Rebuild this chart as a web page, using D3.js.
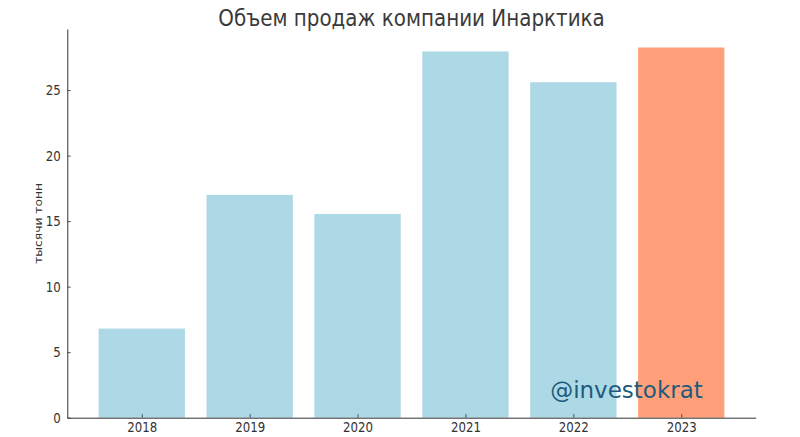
<!DOCTYPE html>
<html>
<head>
<meta charset="utf-8">
<script src="https://cdn.jsdelivr.net/npm/d3@7"></script>
<style>
  html, body { margin: 0; padding: 0; background: #fff; }
  svg { display: block; font-family: "DejaVu Sans", sans-serif; }
</style>
</head>
<body>
<svg id="chart" width="800" height="437"></svg>
<script>
const years = ["2018", "2019", "2020", "2021", "2022", "2023"];
const sales = [6.8, 17.0, 15.55, 27.95, 25.6, 28.25];
const barColors = ["#ADD8E6", "#ADD8E6", "#ADD8E6", "#ADD8E6", "#ADD8E6", "#FFA07A"];
const yTicks = [0, 5, 10, 15, 20, 25];
const titleText = "Объем продаж компании Инарктика";
const yLabelText = "тысячи тонн";
const watermarkText = "@investokrat";

const svg = d3.select("#chart");
const mLeft = 67.3, mRight = 755.7, mTop = 29, mBottom = 417.7;
const sy = 1.12; // vertical stretch of the reference's text

const n = years.length;
const xmin = -0.4 - 0.05 * (n - 1 + 0.8), xmax = n - 1 + 0.4 + 0.05 * (n - 1 + 0.8);
const x = d3.scaleLinear().domain([xmin, xmax]).range([mLeft, mRight]);
const ymax = d3.max(sales) * 1.05;
const y = d3.scaleLinear().domain([0, ymax]).range([mBottom, mTop]);

svg.append("g").selectAll("rect").data(sales).join("rect")
  .attr("x", (d, i) => x(i - 0.4))
  .attr("width", (d, i) => x(i + 0.4) - x(i - 0.4))
  .attr("y", d => y(d))
  .attr("height", d => y(0) - y(d))
  .attr("fill", (d, i) => barColors[i]);

const axisColor = "#333";
const textColor = "#333";
const gx = svg.append("g").attr("transform", `translate(0,${mBottom})`)
  .call(d3.axisBottom(x).tickValues(d3.range(n)).tickFormat(i => years[i]).tickSizeInner(-3.5).tickSizeOuter(0));
gx.select(".domain").attr("stroke", axisColor).attr("stroke-width", 1);
gx.selectAll(".tick line").attr("stroke", axisColor).attr("stroke-width", 0.8);
gx.selectAll(".tick text")
  .attr("y", 0).attr("dy", 0)
  .attr("transform", `translate(0,14) scale(1,${sy})`)
  .attr("fill", textColor).attr("font-size", "11.8px").attr("font-family", "DejaVu Sans");

const gy = svg.append("g").attr("transform", `translate(${mLeft},0)`)
  .call(d3.axisLeft(y).tickValues(yTicks).tickSizeInner(-3.5).tickSizeOuter(0));
gy.select(".domain").attr("stroke", axisColor).attr("stroke-width", 1);
gy.selectAll(".tick line").attr("stroke", axisColor).attr("stroke-width", 0.8);
gy.selectAll(".tick text")
  .attr("x", 0).attr("dy", "0.36em")
  .attr("transform", `translate(-6.5,0) scale(1,${sy})`)
  .attr("fill", textColor).attr("font-size", "11.8px").attr("font-family", "DejaVu Sans");

svg.append("text")
  .attr("transform", `translate(${(mLeft + mRight) / 2},26) scale(1,1.15)`)
  .attr("text-anchor", "middle")
  .attr("font-size", "19.9px").attr("fill", "#3a3a3a")
  .text(titleText);

svg.append("text")
  .attr("transform", `translate(42,${(mTop + mBottom) / 2}) rotate(-90) scale(${sy},1)`)
  .attr("text-anchor", "middle")
  .attr("font-size", "11px").attr("fill", textColor)
  .text(yLabelText);

svg.append("text")
  .attr("x", 626.5).attr("y", 398)
  .attr("text-anchor", "middle")
  .attr("font-size", "23px").attr("fill", "#1d5b7c")
  .text(watermarkText);
</script>
</body>
</html>
